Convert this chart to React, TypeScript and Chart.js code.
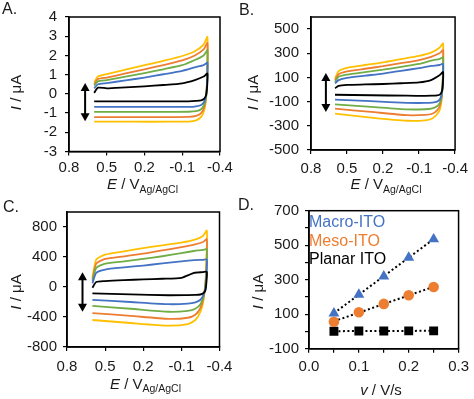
import React, { useEffect, useRef } from 'react';
import { Chart, registerables } from 'chart.js';

Chart.register(...registerables);

const FONT = "'Liberation Sans', Arial, Helvetica, sans-serif";
const W = 474;
const H = 399;

// ---------- CV data (E in V vs Ag/AgCl, I in µA) ----------
const eTicks = [0.8, 0.5, 0.2, -0.1, -0.4];
const forwardE = [0.6, 0.57, 0.5, 0.35, 0.2, 0.05, -0.1, -0.2, -0.27, -0.3];
const reverseE = [-0.3, -0.298, -0.29, -0.275, -0.25, -0.21, -0.15, 0.0, 0.3, 0.6];
const curveColors = ['#000000', '#4472C4', '#70AD47', '#ED7D31', '#FFC000'];

// Panel A: black, blue, green, orange, yellow
const aForward = [
  [0.05, 0.32, 0.29, 0.34, 0.39, 0.46, 0.55, 0.72, 0.9, 1.06],
  [0.29, 0.5, 0.56, 0.7, 0.85, 1.02, 1.2, 1.38, 1.5, 1.62],
  [0.43, 0.65, 0.72, 0.9, 1.08, 1.28, 1.49, 1.76, 2.0, 2.27],
  [0.51, 0.77, 0.85, 1.06, 1.28, 1.5, 1.74, 2.0, 2.31, 2.65],
  [0.6, 0.9, 1.03, 1.26, 1.49, 1.72, 1.97, 2.22, 2.56, 2.96],
];
const aReverse = [
  [1.06, 0.4, -0.05, -0.25, -0.34, -0.37, -0.39, -0.39, -0.39, -0.39],
  [1.62, 0.6, -0.05, -0.4, -0.58, -0.65, -0.68, -0.68, -0.68, -0.68],
  [2.27, 0.8, -0.1, -0.55, -0.8, -0.9, -0.93, -0.94, -0.94, -0.94],
  [2.65, 0.9, -0.15, -0.7, -1.0, -1.15, -1.2, -1.21, -1.21, -1.21],
  [2.96, 1.0, -0.2, -0.85, -1.2, -1.38, -1.44, -1.45, -1.45, -1.45],
];
const aYTicks = [-3, -2, -1, 0, 1, 2, 3, 4];

// Panel B
const bForward = [
  [11, 30, 38, 42, 46, 52, 59, 78, 118, 145],
  [51, 78, 97, 115, 132, 155, 177, 195, 203, 212],
  [64, 105, 123, 144, 164, 188, 212, 239, 252, 266],
  [78, 126, 150, 172, 193, 218, 244, 271, 300, 325],
  [91, 153, 180, 203, 225, 252, 279, 306, 346, 381],
];
const bReverse = [
  [145, 40, -15, -40, -48, -51, -52, -51, -47, -43],
  [212, 60, -30, -78, -100, -108, -111, -110, -96, -83],
  [266, 80, -40, -105, -138, -155, -163, -164, -143, -123],
  [325, 100, -50, -130, -172, -200, -210, -212, -185, -158],
  [381, 120, -60, -160, -204, -239, -255, -258, -232, -199],
];
const bYTicks = [-500, -300, -100, 100, 300, 500];

// Panel C
const cForward = [
  [-9, 66, 79, 92, 101, 110, 123, 189, 198, 202],
  [48, 189, 233, 262, 286, 314, 343, 358, 362, 365],
  [79, 255, 312, 343, 374, 410, 453, 480, 495, 505],
  [101, 312, 374, 409, 444, 488, 532, 565, 600, 637],
  [123, 365, 431, 475, 519, 556, 593, 628, 681, 752],
];
const cReverse = [
  [202, 80, -40, -80, -100, -106, -108, -110, -98, -84],
  [365, 180, 0, -100, -170, -205, -222, -229, -200, -171],
  [505, 260, 30, -120, -230, -290, -318, -330, -290, -251],
  [637, 330, 60, -140, -280, -370, -410, -425, -385, -347],
  [752, 400, 100, -170, -330, -440, -495, -515, -480, -440],
];
const cYTicks = [-800, -400, 0, 400, 800];

// Scan-direction arrows [E, I top, I bottom]
const arrowA = [0.672, 0.56, -1.42];
const arrowB = [0.676, 137, -185];
const arrowC = [0.678, 198, -330];

// ---------- Panel D ----------
const scanRates = [0.05, 0.1, 0.15, 0.2, 0.25];
const macroITO = [106, 214, 320, 429, 535];
const mesoITO = [57, 112, 160, 210, 258];
const planarITO = [2, 3, 3, 4, 4];
const seriesNames = ['Macro-ITO', 'Meso-ITO', 'Planar ITO'];
const seriesColors = ['#4472C4', '#ED7D31', '#000000'];
const dXTicks = [0, 0.05, 0.1, 0.15, 0.2, 0.25, 0.3];
const dXLabeled = [0, 0.1, 0.2, 0.3];
const dYTicks = [-100, 0, 100, 200, 300, 400, 500, 600, 700];
const dYLabeled = [-100, 100, 300, 500, 700];

// ---------- helpers ----------
type Part = { t: string; i?: boolean; sub?: boolean };
type Area = { left: number; right: number; top: number; bottom: number };
interface Decor {
  letter: string;
  letterPos: [number, number];
  xTitle: Part[];
  xTitlePos: [number, number];
  yTitle: Part[];
  yTitlePos: [number, number];
  arrow?: number[];
  legend?: { text: string; color: string }[];
  legendX?: number;
  legendBaselines?: number[];
}

const fontStr = (size: number, italic?: boolean) => `${italic ? 'italic ' : ''}${size}px ${FONT}`;

function drawRich(ctx: CanvasRenderingContext2D, parts: Part[], cx: number, baseline: number, size: number, subSize: number) {
  const widths: number[] = [];
  let total = 0;
  parts.forEach((p) => {
    ctx.font = fontStr(p.sub ? subSize : size, p.i);
    const w = ctx.measureText(p.t).width;
    widths.push(w);
    total += w;
  });
  let x = cx - total / 2;
  ctx.textAlign = 'left';
  ctx.textBaseline = 'alphabetic';
  parts.forEach((p, k) => {
    ctx.font = fontStr(p.sub ? subSize : size, p.i);
    ctx.fillText(p.t, x, baseline + (p.sub ? 3.4 : 0));
    x += widths[k];
  });
}

function makeDecorPlugin(d: Decor) {
  return {
    id: 'decor',
    afterDraw(chart: any) {
      const ctx: CanvasRenderingContext2D = chart.ctx;
      const ca = chart.chartArea;
      ctx.save();
      // frame
      ctx.strokeStyle = '#000';
      ctx.lineWidth = 1.5;
      ctx.strokeRect(ca.left, ca.top, ca.right - ca.left, ca.bottom - ca.top);
      ctx.fillStyle = '#1a1a1a';
      // panel letter
      ctx.font = fontStr(16);
      ctx.textAlign = 'left';
      ctx.textBaseline = 'alphabetic';
      ctx.fillText(d.letter, d.letterPos[0], d.letterPos[1]);
      // x title
      drawRich(ctx, d.xTitle, d.xTitlePos[0], d.xTitlePos[1], 15, 10.5);
      // y title (rotated)
      ctx.save();
      ctx.translate(d.yTitlePos[0], d.yTitlePos[1]);
      ctx.rotate(-Math.PI / 2);
      drawRich(ctx, d.yTitle, 0, 0, 15, 10.5);
      ctx.restore();
      // arrow
      if (d.arrow) {
        const xs = chart.scales.x;
        const ys = chart.scales.y;
        const px = xs.getPixelForValue(d.arrow[0]);
        const y1 = ys.getPixelForValue(d.arrow[1]);
        const y2 = ys.getPixelForValue(d.arrow[2]);
        ctx.strokeStyle = '#000';
        ctx.fillStyle = '#000';
        ctx.lineWidth = 2;
        ctx.beginPath();
        ctx.moveTo(px, y1 + 6);
        ctx.lineTo(px, y2 - 6);
        ctx.stroke();
        ctx.beginPath();
        ctx.moveTo(px, y1);
        ctx.lineTo(px - 4.5, y1 + 8);
        ctx.lineTo(px + 4.5, y1 + 8);
        ctx.closePath();
        ctx.fill();
        ctx.beginPath();
        ctx.moveTo(px, y2);
        ctx.lineTo(px - 4.5, y2 - 8);
        ctx.lineTo(px + 4.5, y2 - 8);
        ctx.closePath();
        ctx.fill();
      }
      // legend
      if (d.legend && d.legendBaselines) {
        ctx.font = fontStr(16);
        ctx.textAlign = 'left';
        ctx.textBaseline = 'alphabetic';
        d.legend.forEach((l, k) => {
          ctx.fillStyle = l.color;
          ctx.fillText(l.text, d.legendX || ca.left, d.legendBaselines![k]);
        });
      }
      ctx.restore();
    },
  };
}

function axisCommon(labelPad: number) {
  return {
    grid: { display: true, drawOnChartArea: false, drawTicks: true, tickLength: 4, color: '#000', lineWidth: 1.2 },
    border: { display: true, color: '#000', width: 1.5 },
    title: { display: false },
  };
}

function tickFont() {
  return { family: FONT, size: 15 };
}

const xTitleE: Part[] = [{ t: 'E', i: true }, { t: ' / V' }, { t: 'Ag/AgCl', sub: true }];
const yTitleI: Part[] = [{ t: 'I', i: true }, { t: ' / \u03bcA' }];

function cvConfig(
  fwd: number[][],
  rev: number[][],
  yMin: number,
  yMax: number,
  yTicks: number[],
  area: Area,
  yPad: number,
  xPad: number,
  decor: Decor
) {
  const datasets = fwd.map((f, k) => ({
    data: [
      ...forwardE.map((e, i) => ({ x: e, y: f[i] })),
      ...reverseE.slice(1).map((e, i) => ({ x: e, y: rev[k][i + 1] })),
    ],
    showLine: true,
    borderColor: curveColors[k],
    backgroundColor: curveColors[k],
    borderWidth: 1.8,
    pointRadius: 0,
    tension: 0.2,
    fill: false,
  }));
  return {
    type: 'scatter',
    data: { datasets },
    options: {
      responsive: false,
      animation: false,
      events: [],
      layout: { padding: { left: 0, top: area.top, right: W - area.right, bottom: 0 } },
      plugins: { legend: { display: false }, tooltip: { enabled: false } },
      scales: {
        x: {
          type: 'linear',
          reverse: true,
          min: -0.4,
          max: 0.8,
          ...axisCommon(xPad),
          afterBuildTicks: (s: any) => {
            s.ticks = eTicks.map((v) => ({ value: v }));
          },
          afterFit: (s: any) => {
            s.height = H - area.bottom;
          },
          ticks: {
            autoSkip: false,
            maxRotation: 0,
            padding: xPad,
            color: '#1a1a1a',
            font: tickFont(),
            callback: (v: any) => Number(v).toFixed(1),
          },
        },
        y: {
          type: 'linear',
          min: yMin,
          max: yMax,
          ...axisCommon(yPad),
          afterBuildTicks: (s: any) => {
            s.ticks = yTicks.map((v) => ({ value: v }));
          },
          afterFit: (s: any) => {
            s.width = area.left;
          },
          ticks: {
            autoSkip: false,
            padding: yPad,
            color: '#1a1a1a',
            font: tickFont(),
            callback: (v: any) => String(v),
          },
        },
      },
    },
    plugins: [makeDecorPlugin(decor)],
  };
}

function fitLine(xs: number[], ys: number[]) {
  const n = xs.length;
  const mx = xs.reduce((a, b) => a + b, 0) / n;
  const my = ys.reduce((a, b) => a + b, 0) / n;
  let sxy = 0;
  let sxx = 0;
  for (let i = 0; i < n; i++) {
    sxy += (xs[i] - mx) * (ys[i] - my);
    sxx += (xs[i] - mx) * (xs[i] - mx);
  }
  const slope = sxy / sxx;
  return [xs[0], xs[n - 1]].map((x) => ({ x, y: my + slope * (x - mx) }));
}

function dConfig() {
  const area: Area = { left: 309, right: 459.5, top: 210.7, bottom: 348.8 };
  const seriesVals = [macroITO, mesoITO, planarITO];
  const styles = ['triangle', 'circle', 'rect'];
  const radii = [6.3, 5.3, 6.3];
  const markers = seriesVals.map((vals, k) => ({
    data: scanRates.map((x, i) => ({ x, y: vals[i] })),
    showLine: false,
    pointStyle: styles[k],
    pointRadius: radii[k],
    pointBackgroundColor: seriesColors[k],
    pointBorderColor: seriesColors[k],
    pointBorderWidth: 0,
    order: 0,
  }));
  const trends = seriesVals.map((vals) => ({
    data: fitLine(scanRates, vals),
    showLine: true,
    borderColor: '#000',
    borderWidth: 2,
    borderDash: [2, 2.5],
    pointRadius: 0,
    order: 1,
  }));
  const decor: Decor = {
    letter: 'D.',
    letterPos: [238, 209.5],
    xTitle: [{ t: 'v', i: true }, { t: ' / V/s' }],
    xTitlePos: [381, 395],
    yTitle: yTitleI,
    yTitlePos: [263, 291.5],
    legend: seriesNames.map((t, k) => ({ text: t, color: seriesColors[k] })),
    legendX: 309,
    legendBaselines: [227, 245.5, 264],
  };
  return {
    type: 'scatter',
    data: { datasets: [...markers, ...trends] },
    options: {
      responsive: false,
      animation: false,
      events: [],
      layout: { padding: { left: 0, top: area.top, right: W - area.right, bottom: 0 } },
      plugins: { legend: { display: false }, tooltip: { enabled: false } },
      scales: {
        x: {
          type: 'linear',
          min: 0,
          max: 0.3,
          ...axisCommon(5),
          afterBuildTicks: (s: any) => {
            s.ticks = dXTicks.map((v) => ({ value: v }));
          },
          afterFit: (s: any) => {
            s.height = H - area.bottom;
          },
          ticks: {
            autoSkip: false,
            maxRotation: 0,
            padding: 5,
            color: '#1a1a1a',
            font: tickFont(),
            callback: (v: any) => (dXLabeled.includes(Number(v)) ? Number(v).toFixed(1) : ''),
          },
        },
        y: {
          type: 'linear',
          min: -100,
          max: 700,
          ...axisCommon(6),
          afterBuildTicks: (s: any) => {
            s.ticks = dYTicks.map((v) => ({ value: v }));
          },
          afterFit: (s: any) => {
            s.width = area.left;
          },
          ticks: {
            autoSkip: false,
            padding: 6,
            color: '#1a1a1a',
            font: tickFont(),
            callback: (v: any) => (dYLabeled.includes(Number(v)) ? String(v) : ''),
          },
        },
      },
    },
    plugins: [makeDecorPlugin(decor)],
  };
}

function buildConfigs(): any[] {
  return [
    cvConfig(aForward, aReverse, -3, 4, aYTicks, { left: 69, right: 220, top: 14, bottom: 151.5 }, 8, 3, {
      letter: 'A.',
      letterPos: [2, 14],
      xTitle: xTitleE,
      xTitlePos: [142.5, 189.3],
      yTitle: yTitleI,
      yTitlePos: [21, 92.5],
      arrow: arrowA,
    }),
    cvConfig(bForward, bReverse, -500, 600, bYTicks, { left: 311, right: 459, top: 13, bottom: 150 }, 8, 6, {
      letter: 'B.',
      letterPos: [239, 15],
      xTitle: xTitleE,
      xTitlePos: [386, 189.3],
      yTitle: yTitleI,
      yTitlePos: [258, 92.5],
      arrow: arrowB,
    }),
    cvConfig(cForward, cReverse, -800, 1000, cYTicks, { left: 67, right: 219.5, top: 212, bottom: 347 }, 6, 6.5, {
      letter: 'C.',
      letterPos: [3, 211.5],
      xTitle: xTitleE,
      xTitlePos: [145.5, 388.5],
      yTitle: yTitleI,
      yTitlePos: [21, 292],
      arrow: arrowC,
    }),
    dConfig(),
  ];
}

export default function App() {
  const refs = [useRef<HTMLCanvasElement>(null), useRef<HTMLCanvasElement>(null), useRef<HTMLCanvasElement>(null), useRef<HTMLCanvasElement>(null)];
  useEffect(() => {
    const configs = buildConfigs();
    const charts = configs.map((cfg, i) => new Chart(refs[i].current as HTMLCanvasElement, cfg));
    return () => charts.forEach((c) => c.destroy());
  }, []);
  return (
    <div style={{ position: 'absolute', left: 0, top: 0, width: W, height: H, background: '#fff', overflow: 'hidden' }}>
      {refs.map((r, i) => (
        <canvas key={i} ref={r} width={W} height={H} style={{ position: 'absolute', left: 0, top: 0, width: W, height: H }} />
      ))}
    </div>
  );
}
